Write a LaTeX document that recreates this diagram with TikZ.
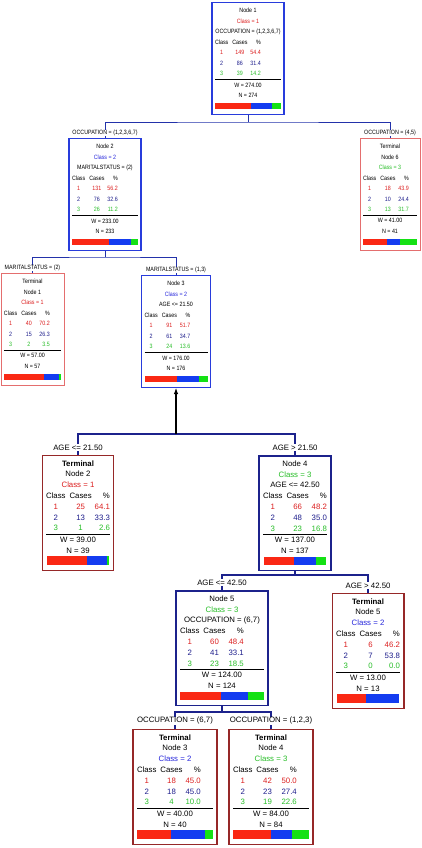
\documentclass[tikz,border=0pt]{standalone}
\usepackage{fontspec}
\setmainfont{Liberation Sans}
\newfontfamily\narrowsans[FakeStretch=0.86]{Liberation Sans}
\usetikzlibrary{arrows.meta,positioning,calc}
\definecolor{SplitBlue}{RGB}{40,60,220}
\definecolor{SplitNavy}{RGB}{28,34,140}
\definecolor{TermPink}{RGB}{228,110,110}
\definecolor{TermRed}{RGB}{150,40,40}
\definecolor{LineBlue}{RGB}{35,50,170}
\definecolor{CaseRed}{RGB}{220,30,30}
\definecolor{CaseBlue}{RGB}{30,30,140}
\definecolor{CaseGreen}{RGB}{40,190,40}
\definecolor{ClassBlue}{RGB}{40,40,220}
\definecolor{BarRed}{RGB}{250,40,20}
\definecolor{BarBlue}{RGB}{20,60,240}
\definecolor{BarGreen}{RGB}{20,225,20}
\setlength{\arrayrulewidth}{0.6pt}
\newcommand{\ctr}[1]{\multicolumn{1}{@{}c@{}}{#1}}
\newcommand{\classtab}[6]{%
  \begin{tabular}{@{}c@{\hspace{4pt}}c@{\hspace{3pt}}r@{}}
    Class & Cases & \%\\
    \color{CaseRed}1 & \color{CaseRed}#1 & \color{CaseRed}#2\\
    \color{CaseBlue}2 & \color{CaseBlue}#3 & \color{CaseBlue}#4\\
    \color{CaseGreen}3 & \color{CaseGreen}#5 & \color{CaseGreen}#6
  \end{tabular}}
\newcommand{\classbar}[5]{%
  \pgfmathsetlengthmacro{\barred}{#1*#3/100}%
  \pgfmathsetlengthmacro{\barblue}{#1*#4/100}%
  \pgfmathsetlengthmacro{\bargreen}{#1*#5/100}%
  {\color{BarRed}\rule[-1pt]{\barred}{#2}}{\color{BarBlue}\rule[-1pt]{\barblue}{#2}}{\color{BarGreen}\rule[-1pt]{\bargreen}{#2}}}
\tikzset{
  treebox/.style={draw=#1, fill=white, anchor=north, inner xsep=3pt, inner ysep=3pt,
    font=\narrowsans\fontsize{6.2}{10.5}\selectfont},
  splitbox/.style={treebox=SplitBlue, line width=1.2pt},
  termbox/.style={treebox=TermPink, line width=0.9pt},
  lowbox/.style={draw=#1, fill=white, anchor=north, inner xsep=4pt, inner ysep=3pt,
    line width=1.5pt, font=\fontsize{7.8}{10.8}\selectfont},
  lowsplit/.style={lowbox=SplitNavy},
  lowterm/.style={lowbox=TermRed, line width=1.2pt},
  splitlab/.style={fill=white, inner sep=0.5pt, font=\narrowsans\fontsize{6.2}{7}\selectfont},
  lowlab/.style={fill=white, inner sep=0.5pt, font=\fontsize{7.8}{9}\selectfont},
  branch/.style={draw=LineBlue, line width=0.9pt},
  lowbranch/.style={draw=SplitNavy, line width=1.3pt},
  joinarr/.style={-{Latex[length=2.2mm, width=1.6mm]}, line width=1.4pt, black},
}
\begin{document}
\begin{tikzpicture}[x=1pt, y=-1pt]
  \useasboundingbox (0,0) rectangle (422,848);
  % ---- upper tree ----
  \node[splitbox] (n1) at (248,2) {\begin{tabular}{@{}l@{}}
      \ctr{Node 1}\\
      \ctr{\color{CaseRed}Class = 1}\\
      \ctr{OCCUPATION = (1,2,3,6,7)}\\
      \classtab{149}{54.4}{86}{31.4}{39}{14.2}\\ \hline
      \ctr{W = 274.00}\\
      \ctr{N = 274}\\
      \ctr{\classbar{66}{6pt}{54.4}{31.4}{14.2}}
    \end{tabular}};
  \node[splitbox] (n2) at (105,138) {\begin{tabular}{@{}l@{}}
      \ctr{Node 2}\\
      \ctr{\color{ClassBlue}Class = 2}\\
      \ctr{MARITALSTATUS = (2)}\\
      \classtab{131}{56.2}{76}{32.6}{26}{11.2}\\ \hline
      \ctr{W = 233.00}\\
      \ctr{N = 233}\\
      \ctr{\classbar{66}{6pt}{56.2}{32.6}{11.2}}
    \end{tabular}};
  \node[termbox] (t6) at (390,138) {\begin{tabular}{@{}l@{}}
      \ctr{Terminal}\\
      \ctr{Node 6}\\
      \ctr{\color{CaseGreen}Class = 3}\\
      \classtab{18}{43.9}{10}{24.4}{13}{31.7}\\ \hline
      \ctr{W = 41.00}\\
      \ctr{N = 41}\\
      \ctr{\classbar{54}{6pt}{43.9}{24.4}{31.7}}
    \end{tabular}};
  \node[termbox] (t1) at (32.5,273) {\begin{tabular}{@{}l@{}}
      \ctr{Terminal}\\
      \ctr{Node 1}\\
      \ctr{\color{CaseRed}Class = 1}\\
      \classtab{40}{70.2}{15}{26.3}{2}{3.5}\\ \hline
      \ctr{W = 57.00}\\
      \ctr{N = 57}\\
      \ctr{\classbar{57}{6pt}{70.2}{26.3}{3.5}}
    \end{tabular}};
  \node[splitbox] (n3) at (176,275) {\begin{tabular}{@{}l@{}}
      \ctr{Node 3}\\
      \ctr{\color{ClassBlue}Class = 2}\\
      \ctr{AGE <= 21.50}\\
      \classtab{91}{51.7}{61}{34.7}{24}{13.6}\\ \hline
      \ctr{W = 176.00}\\
      \ctr{N = 176}\\
      \ctr{\classbar{63}{6pt}{51.7}{34.7}{13.6}}
    \end{tabular}};
  \coordinate (j1) at (248,122);
  \coordinate (j2) at (105,257);
  \draw[branch] (n1.south) -- (j1);
  \draw[branch] (n2.north) |- (j1) -| (t6.north);
  \draw[branch] (n2.south) -- (j2);
  \draw[branch] (t1.north) |- (j2) -| (n3.north);
  \node[splitlab, above=1.5pt of n2] (l2) {OCCUPATION = (1,2,3,6,7)};
  \node[splitlab, above=1.5pt of t6] (l6) {OCCUPATION = (4,5)};
  \node[splitlab, above=1.5pt of t1] (l1) {MARITALSTATUS = (2)};
  \node[splitlab, above=1.5pt of n3] (l3) {MARITALSTATUS = (1,3)};
  % ---- lower tree (node 3 expanded) ----
  \node[lowterm] (t2) at (78,455) {\begin{tabular}{@{}l@{}}
      \ctr{\bfseries Terminal}\\
      \ctr{Node 2}\\
      \ctr{\color{CaseRed}Class = 1}\\
      \classtab{25}{64.1}{13}{33.3}{1}{2.6}\\ \hline
      \ctr{W = 39.00}\\
      \ctr{N = 39}\\
      \ctr{\classbar{62}{8.5pt}{64.1}{33.3}{2.6}}
    \end{tabular}};
  \node[lowsplit] (n4) at (295,455) {\begin{tabular}{@{}l@{}}
      \ctr{Node 4}\\
      \ctr{\color{CaseGreen}Class = 3}\\
      \ctr{AGE <= 42.50}\\
      \classtab{66}{48.2}{48}{35.0}{23}{16.8}\\ \hline
      \ctr{W = 137.00}\\
      \ctr{N = 137}\\
      \ctr{\classbar{62}{8.5pt}{48.2}{35.0}{16.8}}
    \end{tabular}};
  \node[lowsplit] (n5) at (222,590) {\begin{tabular}{@{}l@{}}
      \ctr{Node 5}\\
      \ctr{\color{CaseGreen}Class = 3}\\
      \ctr{OCCUPATION = (6,7)}\\
      \classtab{60}{48.4}{41}{33.1}{23}{18.5}\\ \hline
      \ctr{W = 124.00}\\
      \ctr{N = 124}\\
      \ctr{\classbar{84}{8.5pt}{48.4}{33.1}{18.5}}
    \end{tabular}};
  \node[lowterm] (t5) at (368,593) {\begin{tabular}{@{}l@{}}
      \ctr{\bfseries Terminal}\\
      \ctr{Node 5}\\
      \ctr{\color{ClassBlue}Class = 2}\\
      \classtab{6}{46.2}{7}{53.8}{0}{0.0}\\ \hline
      \ctr{W = 13.00}\\
      \ctr{N = 13}\\
      \ctr{\classbar{62}{8.5pt}{46.2}{53.8}{0.0}}
    \end{tabular}};
  \node[lowterm] (t3) at (175,729) {\begin{tabular}{@{}l@{}}
      \ctr{\bfseries Terminal}\\
      \ctr{Node 3}\\
      \ctr{\color{ClassBlue}Class = 2}\\
      \classtab{18}{45.0}{18}{45.0}{4}{10.0}\\ \hline
      \ctr{W = 40.00}\\
      \ctr{N = 40}\\
      \ctr{\classbar{76}{8.5pt}{45.0}{45.0}{10.0}}
    \end{tabular}};
  \node[lowterm] (t4) at (271,729) {\begin{tabular}{@{}l@{}}
      \ctr{\bfseries Terminal}\\
      \ctr{Node 4}\\
      \ctr{\color{CaseGreen}Class = 3}\\
      \classtab{42}{50.0}{23}{27.4}{19}{22.6}\\ \hline
      \ctr{W = 84.00}\\
      \ctr{N = 84}\\
      \ctr{\classbar{76}{8.5pt}{50.0}{27.4}{22.6}}
    \end{tabular}};
  \coordinate (jb) at (176,434);
  \coordinate (j4) at (295,575);
  \coordinate (j5) at (222,712);
  \draw[lowbranch] (t2.north) |- (jb) -| (n4.north);
  \draw[lowbranch] (n4.south) -- (j4);
  \draw[lowbranch] (n5.north) |- (j4) -| (t5.north);
  \draw[lowbranch] (n5.south) -- (j5);
  \draw[lowbranch] (t3.north) |- (j5) -| (t4.north);
  \draw[joinarr] (jb) -- (n3.south);
  \node[lowlab, above=4pt of t2] (lb2) {AGE <= 21.50};
  \node[lowlab, above=4pt of n4] (lb4) {AGE > 21.50};
  \node[lowlab, above=4pt of n5] (lb5) {AGE <= 42.50};
  \node[lowlab, above=4pt of t5] (lbt5) {AGE > 42.50};
  \node[lowlab, above=4pt of t3] (lb3) {OCCUPATION = (6,7)};
  \node[lowlab, above=4pt of t4] (lbt4) {OCCUPATION = (1,2,3)};
\end{tikzpicture}
\end{document}
